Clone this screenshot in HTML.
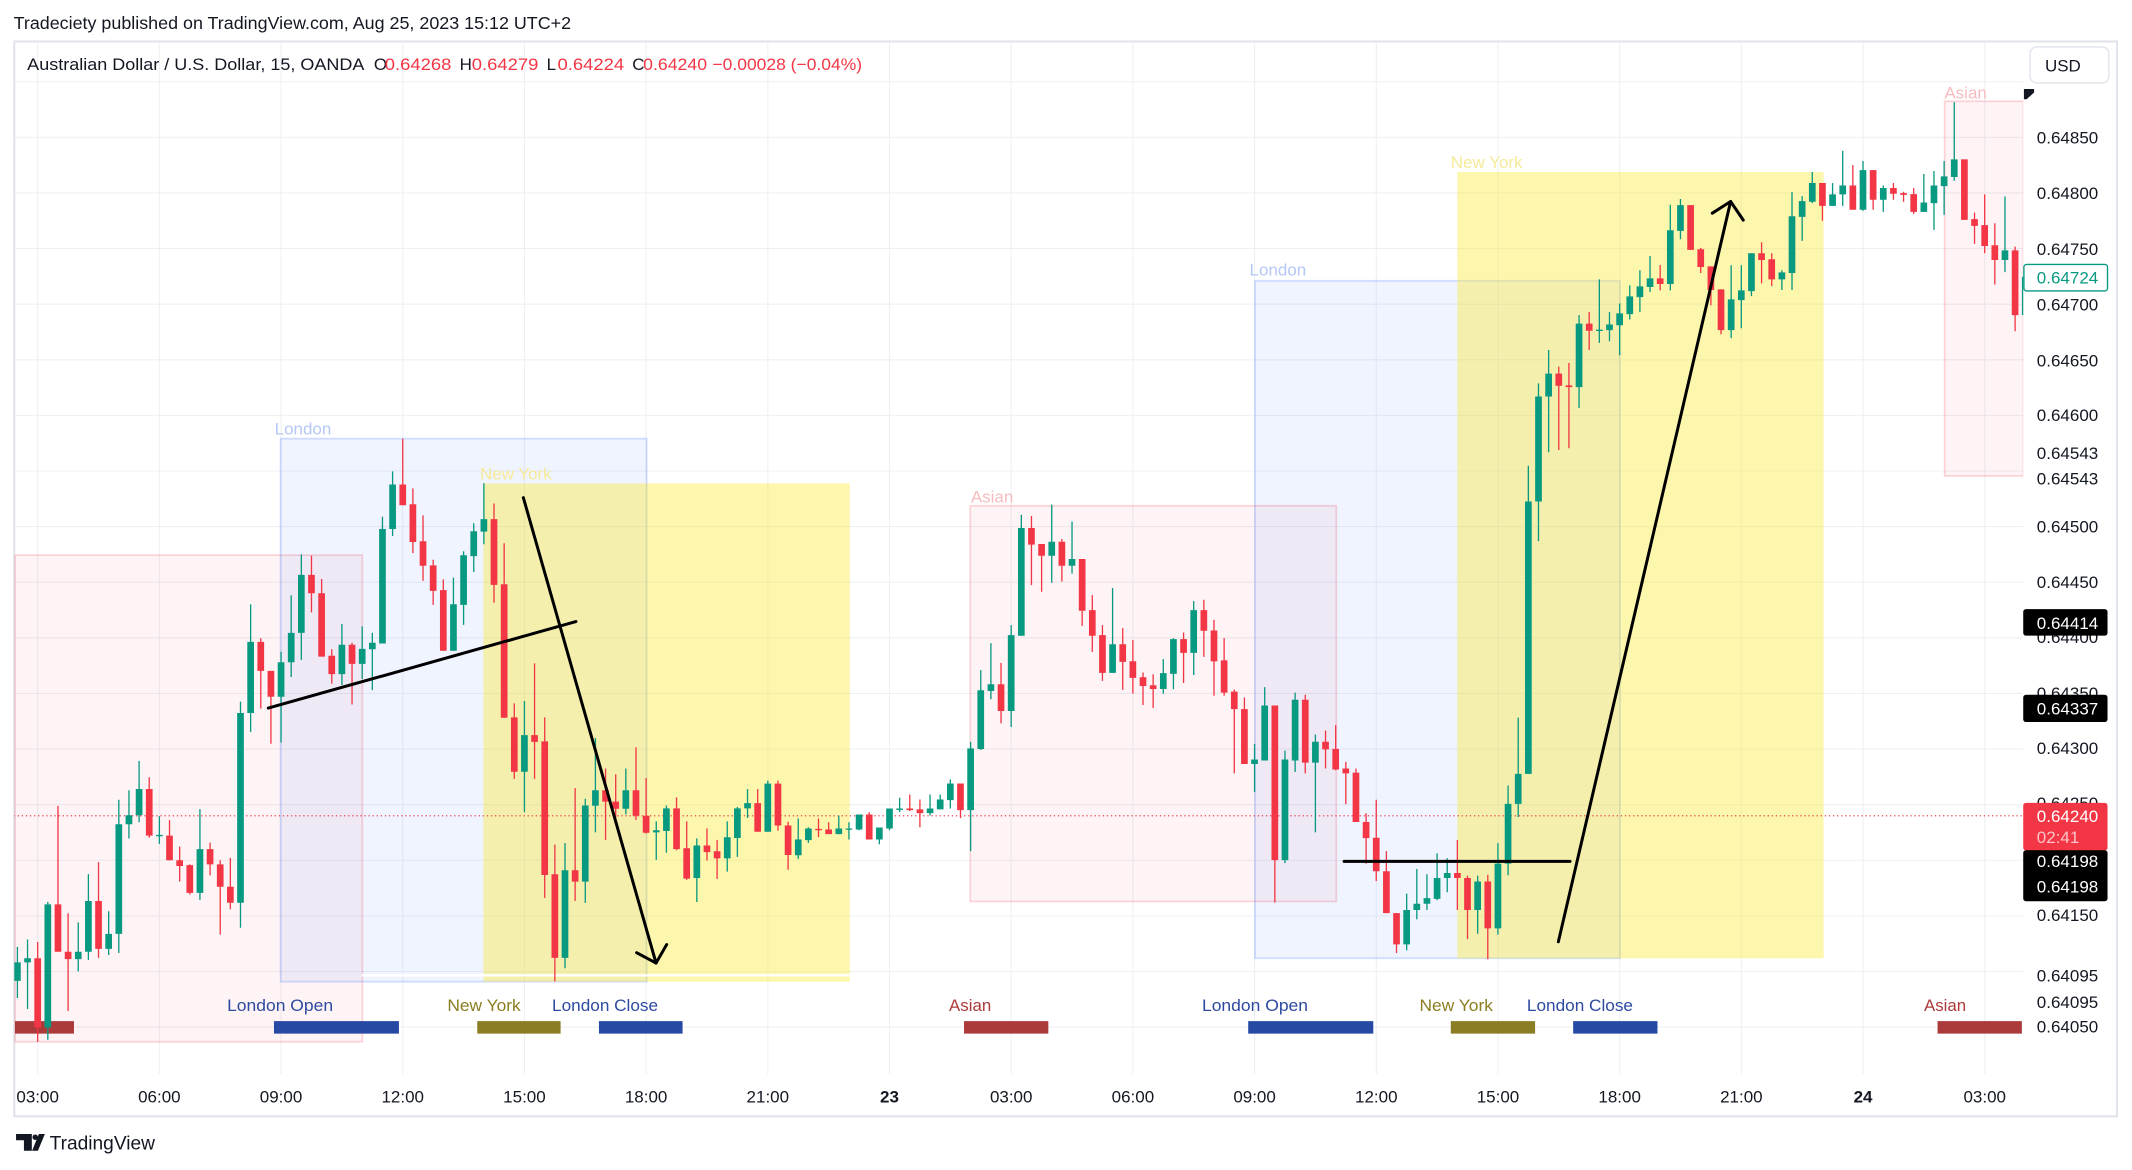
<!DOCTYPE html>
<html><head><meta charset="utf-8"><style>
html,body{margin:0;padding:0;background:#fff;}
svg{display:block;}
text{font-family:"Liberation Sans",sans-serif;}
</style></head><body>
<svg width="2132" height="1170" viewBox="0 0 1568 860.5" preserveAspectRatio="none" xmlns="http://www.w3.org/2000/svg">
<defs><clipPath id="pane"><rect x="10.5" y="31" width="1477.5" height="759"/></clipPath></defs>
<rect x="0" y="0" width="1568" height="860.5" fill="#fff"/>
<text x="10" y="21.5" font-size="13" fill="#131722" textLength="410" lengthAdjust="spacingAndGlyphs">Tradeciety published on TradingView.com, Aug 25, 2023 15:12 UTC+2</text>
<rect x="10.5" y="30.5" width="1546.5" height="790.5" fill="none" stroke="#e0e3eb" stroke-width="1.5"/>
<g clip-path="url(#pane)">
<g stroke="#eef0f3" stroke-width="0.8">
<path d="M10 60.1H1488M10 101H1488M10 141.9H1488M10 182.8H1488M10 223.7H1488M10 264.6H1488M10 305.5H1488M10 346.4H1488M10 387.3H1488M10 428.2H1488M10 469.1H1488M10 510H1488M10 550.9H1488M10 591.8H1488M10 632.7H1488M10 673.6H1488M10 714.5H1488M10 755.4H1488"/>
<path d="M27.7 31V790M117.2 31V790M206.7 31V790M296.2 31V790M385.7 31V790M475.2 31V790M564.7 31V790M654.2 31V790M743.7 31V790M833.2 31V790M922.7 31V790M1012.2 31V790M1101.7 31V790M1191.2 31V790M1280.7 31V790M1370.2 31V790M1459.7 31V790"/>
</g>
<rect x="11" y="408.3" width="255.5" height="357.9" fill="rgba(242,54,69,0.055)" stroke="rgba(242,54,69,0.2)" stroke-width="1.3"/>
<rect x="206.4" y="322.6" width="269.2" height="399.4" fill="rgba(41,98,255,0.07)" stroke="rgba(41,98,255,0.2)" stroke-width="1.3"/>
<rect x="355.5" y="355.5" width="269.5" height="366.5" fill="rgba(251,232,50,0.4)"/>
<line x1="266" y1="717.3" x2="625" y2="717.3" stroke="#fff" stroke-width="1.8"/>
<rect x="713.6" y="372" width="269.2" height="291" fill="rgba(242,54,69,0.055)" stroke="rgba(242,54,69,0.2)" stroke-width="1.3"/>
<rect x="923" y="206.5" width="268.5" height="498.3" fill="rgba(41,98,255,0.07)" stroke="rgba(41,98,255,0.2)" stroke-width="1.3"/>
<rect x="1071.8" y="126.5" width="269.4" height="578.3" fill="rgba(251,232,50,0.4)"/>
<rect x="1430.2" y="74.5" width="58" height="275.5" fill="rgba(242,54,69,0.055)" stroke="rgba(242,54,69,0.2)" stroke-width="1.3"/>
<g font-size="12.5">
<text x="202" y="319.5" fill="#b5c7f5">London</text>
<text x="353" y="352.5" fill="#f6ea98">New York</text>
<text x="714" y="369.5" fill="#f6bcc0">Asian</text>
<text x="919" y="202.5" fill="#b5c7f5">London</text>
<text x="1067" y="123.5" fill="#f6ea98">New York</text>
<text x="1430" y="72.5" fill="#f6bcc0">Asian</text>
</g>
<line x1="10" y1="600" x2="1488" y2="600" stroke="#f23645" stroke-width="0.8" stroke-dasharray="1,2"/>
<g>
<rect x="11" y="751" width="43.4" height="9.2" fill="#ad3a3a"/>
<rect x="201.5" y="751" width="91.9" height="9.2" fill="#2649a3"/>
<rect x="351" y="751" width="61.3" height="9.2" fill="#8b7d23"/>
<rect x="440.5" y="751" width="61.5" height="9.2" fill="#2649a3"/>
<rect x="709" y="751" width="62" height="9.2" fill="#ad3a3a"/>
<rect x="918" y="751" width="92" height="9.2" fill="#2649a3"/>
<rect x="1067" y="751" width="62" height="9.2" fill="#8b7d23"/>
<rect x="1157" y="751" width="62" height="9.2" fill="#2649a3"/>
<rect x="1425" y="751" width="62" height="9.2" fill="#ad3a3a"/>
</g>
<g font-size="12.5">
<text x="167" y="743.5" fill="#2d4aa0" textLength="78" lengthAdjust="spacingAndGlyphs">London Open</text>
<text x="329" y="743.5" fill="#8c7e22" textLength="54" lengthAdjust="spacingAndGlyphs">New York</text>
<text x="406" y="743.5" fill="#2d4aa0" textLength="78" lengthAdjust="spacingAndGlyphs">London Close</text>
<text x="698" y="743.5" fill="#ad3a3a" textLength="31" lengthAdjust="spacingAndGlyphs">Asian</text>
<text x="884" y="743.5" fill="#2d4aa0" textLength="78" lengthAdjust="spacingAndGlyphs">London Open</text>
<text x="1044" y="743.5" fill="#8c7e22" textLength="54" lengthAdjust="spacingAndGlyphs">New York</text>
<text x="1123" y="743.5" fill="#2d4aa0" textLength="78" lengthAdjust="spacingAndGlyphs">London Close</text>
<text x="1415" y="743.5" fill="#ad3a3a" textLength="31" lengthAdjust="spacingAndGlyphs">Asian</text>
</g>
<g transform="translate(12.8,0) scale(7.458,1)" fill="none">
<path stroke="#089981" stroke-width="0.13" d="M0 696.4V734 M1 691V742.1 M3 663.3V764.7 M6 678.4V714.4 M7 642.9V706 M9 670.2V702.4 M10 588.2V700.9 M11 581.2V616.7 M12 559.6V604.7 M14 600.2V620.6 M18 595.1V661.8 M22 516V682.3 M23 444.4V538.5 M26 479.3V546.1 M27 437.8V497.9 M28 407.7V485.3 M32 458.9V503.9 M34 460.7V499.4 M35 465.5V507.6 M36 380.1V473.3 M37 346.7V394.2 M43 424.8V478.6 M44 405.4V459.6 M45 384.8V420.7 M46 355.4V400.3 M50 515.6V597.3 M54 620.1V712.1 M56 587.5V664 M57 542.8V612.2 M60 565.2V598.9 M63 604.1V632.4 M64 592.4V627.2 M67 616.6V663.4 M70 604.1V641.1 M71 593.5V630.2 M72 580.4V601.6 M74 574.1V611.7 M77 602V631.7 M78 608.4V619.9 M81 599.8V613.5 M82 604.7V617.4 M83 599V610.6 M85 608.6V620.9 M86 594.6V610.6 M87 586.7V597.3 M90 584.3V599.8 M91 584.3V595.3 M92 573.2V594.6 M94 545.5V626 M95 492.9V551.6 M96 473V514.3 M98 459.8V534.7 M99 378.7V467.6 M102 371.1V428.6 M104 383.6V421.9 M108 432.5V494.9 M113 484.8V510.1 M114 469.4V506.9 M116 442.1V496.4 M122 547.1V582.6 M123 505.4V559.3 M125 552.1V634.8 M126 509.4V567.8 M128 540.2V612.2 M137 657.2V698.9 M138 639.1V676.2 M139 643V669.3 M140 627.6V662.1 M141 631.2V656.2 M144 644V686.7 M146 620.1V687.4 M147 577.7V643.7 M148 527.8V601 M149 342.5V569.2 M150 282V398 M151 257.4V332.6 M154 231.8V300.1 M156 205.5V252.2 M157 229.6V251 M158 223.2V261.3 M159 209.9V235 M160 198.8V229.6 M161 188.3V214.8 M163 150.6V213.6 M164 146.4V176 M169 195.1V248.7 M170 195.1V241.4 M171 186.3V217.8 M174 198.8V213.3 M175 141.3V213.3 M176 144.2V177.2 M177 126.5V149.4 M179 134.6V151.4 M180 111V151.4 M182 118.4V155.1 M184 136.4V155.8 M188 128V155.8 M189 125.8V169.1 M190 118.4V158 M191 75.1V132.9 M196 144.5V200.1 M198 203.5V231.8"/>
<path stroke="#089981" stroke-width="0.66" d="M0 707.8V721.4 M1 704.8V707.8 M3 665.1V755.6 M6 700V705.4 M7 662.7V700 M9 686.8V697.9 M10 606.2V686.8 M11 599.6V606.2 M12 580.3V599.6 M14 614V615 M18 624.5V656.7 M22 524.4V663.9 M23 472.1V524.4 M26 487.1V512.4 M27 465.5V487.1 M28 422.8V465.5 M32 474.2V495.8 M34 477.2V488.3 M35 472.7V477.5 M36 389.1V473.3 M37 356.3V389.1 M43 444.4V478.6 M44 408.4V444.9 M45 390.7V409 M46 381.8V391 M50 540.7V567.6 M54 640V704.5 M56 592.4V648.4 M57 581.2V592.6 M60 581.2V594.8 M63 610.6V612.2 M64 594.5V611.2 M67 621.8V645.7 M70 615.8V631.3 M71 594.5V616.3 M72 590.7V594.5 M74 576.3V611.7 M77 617.4V629 M78 609.3V617.9 M81 609.3V613.5 M82 609.3V610.3 M83 599V610.1 M85 608.6V617.4 M86 594.6V609.3 M87 594.6V595.6 M90 594.6V598 M91 588V595.3 M92 576.2V588.5 M94 550.4V595.8 M95 507.7V550.9 M96 503.2V508.2 M98 467.1V522.9 M99 388.3V467.6 M102 398.4V408.7 M104 411.1V416.1 M108 473.8V494.9 M113 495.1V506.7 M114 470.1V495.6 M116 448.7V480.2 M122 558.6V561.9 M123 518.9V559.3 M125 558.6V632.6 M126 514.6V559.3 M128 545.5V560.9 M137 669.3V694.6 M138 664.7V669.3 M139 660.5V664.7 M140 645.7V661.1 M141 642.1V645.7 M144 648.3V669.3 M146 635.2V682.8 M147 591.2V635.2 M148 569.2V591.2 M149 368.8V569.2 M150 291.6V368.8 M151 274.8V291.6 M154 238V284.7 M156 242.4V243.4 M157 238.7V242.8 M158 230.5V239.2 M159 218V231 M160 210.6V218.5 M161 204.7V211.1 M163 169.3V208.9 M164 150.9V169.8 M169 220.2V242.8 M170 213.6V220.7 M171 186.3V214.1 M174 200.3V205.5 M175 159V200.8 M176 147.9V159.5 M177 134.6V148.4 M179 143V151.4 M180 136.4V143 M182 125.1V154.3 M184 138.3V146.9 M188 148.9V155.8 M189 136.4V149.4 M190 129.7V136.9 M191 117.2V130.2 M196 184.1V191.2 M198 203.5V231.8"/>
<path stroke="#f23645" stroke-width="0.13" d="M2 692.8V766.2 M4 592.7V700 M5 671.7V743.6 M8 634.2V704.5 M13 571.6V616.1 M15 603.2V632.7 M16 622.7V648.3 M17 635.7V657.9 M19 619.7V643.8 M20 632.7V687.4 M21 630.9V668.7 M24 469.4V521.1 M25 493.4V547 M29 408.6V450.4 M30 425.8V482.9 M31 477.5V502.8 M33 472.7V518.1 M38 322.6V371.6 M39 359.2V406.8 M40 379V427.2 M41 411.7V444.9 M42 426.1V478.6 M47 370.3V443.3 M48 399.5V527.9 M49 517.3V572.8 M51 487.9V572.8 M52 527.6V660.4 M53 621.2V721.9 M55 579.6V662.6 M58 565.2V617.7 M59 569.5V602.2 M61 549.6V603 M62 572.2V613.1 M65 586.4V625.3 M66 604.1V647.1 M68 609.2V632.9 M69 617.7V646.5 M73 580.4V611.7 M75 574.1V610.9 M76 604.4V639.7 M79 602V615.7 M80 604.7V613.5 M84 597.3V617.4 M88 584.3V596.6 M89 588V608.4 M93 576.2V601.7 M97 487.5V532 M100 379.5V430.3 M101 400.1V435.2 M103 396.4V427.8 M105 411.1V460.3 M106 437.7V479.4 M107 459.8V500.8 M109 462V507.4 M110 470.8V510.1 M111 494.6V518.5 M112 495.9V520.7 M115 465.2V502.3 M117 441.1V483.1 M118 455.8V511.7 M119 469.3V511.7 M120 507.1V568.8 M121 513V561.9 M124 518.9V663.8 M127 511V568.8 M129 537.3V565.2 M130 533.3V566.5 M131 560.3V591.5 M132 565.2V604.6 M133 598.1V635.2 M134 588.2V648 M135 626V671.6 M136 671.6V700.9 M142 617.8V669.3 M143 644V690.7 M145 643.4V705.5 M152 269.6V331 M153 266.9V329.7 M155 229.5V257.4 M162 194.9V213.6 M165 150.9V183.8 M166 182.3V200.8 M167 195.9V224.6 M168 212.8V245.8 M172 178.2V208.4 M173 186.3V210.4 M178 134.6V162.4 M181 121.4V154.3 M183 125.1V154.3 M185 134.6V146.9 M186 141V148.4 M187 138.3V157.3 M192 117.2V161.7 M193 156.3V179.4 M194 143V186.3 M195 164.2V209.2 M197 181.4V243.6"/>
<path stroke="#f23645" stroke-width="0.66" d="M2 704.8V755.6 M4 665.1V700 M5 700V705.4 M8 662.7V697.9 M13 580.3V614.6 M15 614.6V632.7 M16 632.7V636.9 M17 636.3V656.7 M19 624.5V635.7 M20 635.7V652.2 M21 652.2V663.9 M24 472.1V493.4 M25 493.4V512.4 M29 422.8V436.3 M30 436.3V482.9 M31 482.3V495.8 M33 474.2V488.3 M38 356.3V371.6 M39 370.9V398.6 M40 398.1V416.1 M41 415.8V434.6 M42 434V478.6 M47 381.8V430.2 M48 429.7V527.9 M49 527.6V567.6 M51 540.7V545.6 M52 545.3V643.5 M53 643V704.5 M55 640V648.4 M58 581.2V589.6 M59 589.6V594.8 M61 581.2V600 M62 600V612.5 M65 594.5V624.5 M66 623.9V646.2 M68 621.8V626.7 M69 626.1V631.3 M73 590.7V611.7 M75 576.3V607.1 M76 607.1V628.8 M79 609.6V610.6 M80 610.1V613.5 M84 599V617.4 M88 594.6V595.8 M89 595.3V598 M93 576.2V595.8 M97 503.2V522.9 M100 388.3V400.6 M101 400.1V408.7 M103 398.4V416.1 M105 411.1V449.2 M106 448.7V467.6 M107 467.1V494.9 M109 473.8V486.8 M110 486.3V498.6 M111 498.1V504.5 M112 504V506.7 M115 470.1V480.2 M117 448.7V463.9 M118 463.7V486.4 M119 485.7V509.4 M120 508.7V521.5 M121 521.5V561.9 M124 518.9V632.6 M127 514.6V560.9 M129 545.5V551.1 M130 550.8V565.9 M131 565.2V568.8 M132 568.2V604.6 M133 604.6V616.4 M134 616.1V640.8 M135 640.8V671.6 M136 671.6V694.6 M142 642.1V645.7 M143 645.7V669.3 M145 648.3V682.8 M152 274.8V283.7 M153 283.4V284.7 M155 238V243.3 M162 204.7V208.9 M165 150.9V183.8 M166 183.3V196.4 M167 195.9V213.3 M168 212.8V242.8 M172 186.3V191.2 M173 190.7V205.5 M178 134.6V151.4 M181 136.4V154.3 M183 125.1V146.9 M185 138.3V142.5 M186 142V143.3 M187 142.8V155.8 M192 117.2V161.7 M193 161.2V166.1 M194 165.6V180.9 M195 180.4V191.2 M197 184.1V231.8"/>
</g>
<g stroke="#000" stroke-width="2.2" fill="none" stroke-linecap="round" stroke-linejoin="round">
<line x1="197.3" y1="520.8" x2="423.6" y2="457.1"/>
<line x1="384.9" y1="366" x2="482.5" y2="708.3"/>
<polyline points="468.2,700.7 482.5,708.3 490.3,694.7"/>
<line x1="988.5" y1="633.5" x2="1154.7" y2="633.5"/>
<line x1="1146.1" y1="692.7" x2="1272.8" y2="148.2"/>
<polyline points="1259.3,156.8 1272.8,148.2 1282.1,161.9"/>
</g>
</g>
<g font-size="12.5" fill="#131722">
<text x="20" y="51.5" textLength="248" lengthAdjust="spacingAndGlyphs">Australian Dollar / U.S. Dollar, 15, OANDA</text>
<text x="275" y="51.5">O</text><text x="283" y="51.5" fill="#f23645" textLength="49" lengthAdjust="spacingAndGlyphs">0.64268</text>
<text x="338" y="51.5">H</text><text x="347" y="51.5" fill="#f23645" textLength="49" lengthAdjust="spacingAndGlyphs">0.64279</text>
<text x="402" y="51.5">L</text><text x="410" y="51.5" fill="#f23645" textLength="49" lengthAdjust="spacingAndGlyphs">0.64224</text>
<text x="465" y="51.5">C</text><text x="473" y="51.5" fill="#f23645" textLength="47" lengthAdjust="spacingAndGlyphs">0.64240</text>
<text x="524" y="51.5" fill="#f23645" textLength="110" lengthAdjust="spacingAndGlyphs">−0.00028 (−0.04%)</text>
</g>
<rect x="1493" y="34.5" width="58" height="26.5" rx="5" fill="#fff" stroke="#e0e3eb" stroke-width="1"/>
<text x="1504" y="52.5" font-size="12.5" fill="#131722">USD</text>
<polygon points="1488.5,65.5 1496,65.5 1496,68 1490.5,73 1488.5,73" fill="#131722"/>
<g font-size="12.5" fill="#131722">
<text x="1498" y="105.5">0.64850</text>
<text x="1498" y="146.5">0.64800</text>
<text x="1498" y="187.5">0.64750</text>
<text x="1498" y="228.5">0.64700</text>
<text x="1498" y="269.5">0.64650</text>
<text x="1498" y="309.5">0.64600</text>
<text x="1498" y="337.5">0.64543</text>
<text x="1498" y="356.5">0.64543</text>
<text x="1498" y="391.5">0.64500</text>
<text x="1498" y="432.5">0.64450</text>
<text x="1498" y="473">0.64400</text>
<text x="1498" y="514">0.64350</text>
<text x="1498" y="554.5">0.64300</text>
<text x="1498" y="595">0.64250</text>
<text x="1498" y="677.5">0.64150</text>
<text x="1498" y="722">0.64095</text>
<text x="1498" y="741.5">0.64095</text>
<text x="1498" y="759.5">0.64050</text>
</g>
<rect x="1488.5" y="194.5" width="61.5" height="19.5" rx="2" fill="#fff" stroke="#089981" stroke-width="1"/>
<text x="1498" y="208.5" font-size="12.5" fill="#089981">0.64724</text>
<rect x="1488" y="448" width="62" height="19.5" rx="2" fill="#000"/>
<text x="1498" y="462.5" font-size="12.5" fill="#fff">0.64414</text>
<rect x="1488" y="511" width="62" height="20" rx="2" fill="#000"/>
<text x="1498" y="525.5" font-size="12.5" fill="#fff">0.64337</text>
<rect x="1488" y="590.5" width="62" height="35" rx="2" fill="#f23645"/>
<text x="1498" y="604.5" font-size="12.5" fill="#fff">0.64240</text>
<text x="1498" y="620" font-size="12.5" fill="#fbc4c8">02:41</text>
<rect x="1488" y="625.3" width="62" height="37.5" rx="2" fill="#000"/>
<text x="1498" y="637.5" font-size="12.5" fill="#fff">0.64198</text>
<text x="1498" y="656.5" font-size="12.5" fill="#fff">0.64198</text>
<g font-size="12.5" fill="#131722" text-anchor="middle">
<text x="27.7" y="811">03:00</text>
<text x="117.2" y="811">06:00</text>
<text x="206.7" y="811">09:00</text>
<text x="296.2" y="811">12:00</text>
<text x="385.7" y="811">15:00</text>
<text x="475.2" y="811">18:00</text>
<text x="564.7" y="811">21:00</text>
<text x="654.2" y="811" font-weight="bold">23</text>
<text x="743.7" y="811">03:00</text>
<text x="833.2" y="811">06:00</text>
<text x="922.7" y="811">09:00</text>
<text x="1012.2" y="811">12:00</text>
<text x="1101.7" y="811">15:00</text>
<text x="1191.2" y="811">18:00</text>
<text x="1280.7" y="811">21:00</text>
<text x="1370.2" y="811" font-weight="bold">24</text>
<text x="1459.7" y="811">03:00</text>
</g>
<g fill="#131722">
<path d="M11.8 834H23.4V846.3H17.6V838.6H11.8Z"/>
<circle cx="25.9" cy="836.4" r="2"/>
<polygon points="28.6,834 33,834 27.9,846.3 23.6,846.3"/>
<text x="36.5" y="845.5" font-size="14" textLength="77.5" lengthAdjust="spacingAndGlyphs">TradingView</text>
</g>
</svg>
</body></html>
